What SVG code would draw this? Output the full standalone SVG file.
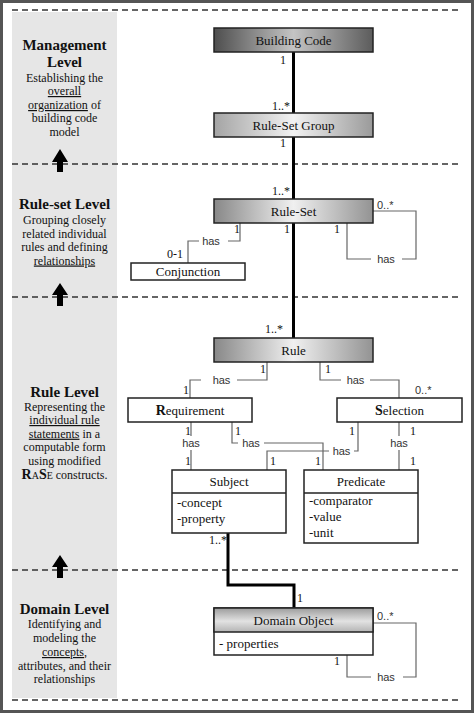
<svg xmlns="http://www.w3.org/2000/svg" width="474" height="713" viewBox="0 0 474 713">
<defs>
<linearGradient id="gDark" x1="0" y1="0" x2="1" y2="0">
<stop offset="0" stop-color="#4e4e4e"/><stop offset="0.5" stop-color="#c4c4c4"/><stop offset="1" stop-color="#5c5c5c"/>
</linearGradient>
<linearGradient id="gLight" x1="0" y1="0" x2="1" y2="0">
<stop offset="0" stop-color="#a4a4a4"/><stop offset="0.5" stop-color="#f2f2f2"/><stop offset="1" stop-color="#9a9a9a"/>
</linearGradient>
<linearGradient id="gMid" x1="0" y1="0" x2="1" y2="0">
<stop offset="0" stop-color="#888"/><stop offset="0.5" stop-color="#f0f0f0"/><stop offset="1" stop-color="#939393"/>
</linearGradient>
<linearGradient id="gVert" x1="0" y1="0" x2="0" y2="1">
<stop offset="0" stop-color="#9c9c9c"/><stop offset="0.55" stop-color="#e2e2e2"/><stop offset="1" stop-color="#b4b4b4"/>
</linearGradient>
<style>
.box{stroke:#222;stroke-width:1.5}
.t{font-family:"Liberation Serif","Times New Roman",serif;fill:#111}
.bl{font-size:13px;text-anchor:middle}
.at{font-size:13px}
.m{font-size:12px}
.s{font-family:"Liberation Sans",Arial,sans-serif;font-size:11px;fill:#333}
.c{fill:none;stroke:#666;stroke-width:1.2}
.thick{fill:none;stroke:#000;stroke-width:3}
.dash{stroke:#333;stroke-width:1.5;stroke-dasharray:6 4}
.h{font-size:15px;font-weight:bold;text-anchor:middle}
.d{font-size:12px;text-anchor:middle}
.u{text-decoration:underline}
.arr{fill:#000}
</style>
</defs>
<rect x="1.5" y="1.5" width="471" height="710" fill="#fff" stroke="#555" stroke-width="3"/>
<rect x="12" y="12" width="105" height="686" fill="#e6e6e6"/>
<g id="separators">
<line class="dash" x1="12" y1="10" x2="462" y2="10"/>
<line class="dash" x1="12" y1="164" x2="462" y2="164"/>
<line class="dash" x1="12" y1="297" x2="462" y2="297"/>
<line class="dash" x1="12" y1="570" x2="462" y2="570"/>
<line class="dash" x1="12" y1="700" x2="462" y2="700"/>
</g>
<g id="arrows">
<polygon class="arr" points="60,149 68,162 63,162 63,172 57,172 57,162 52,162"/>
<polygon class="arr" points="60,283 68,295 63,295 63,306 57,306 57,295 52,295"/>
<polygon class="arr" points="60,555 68,567 63,567 63,578 57,578 57,567 52,567"/>
</g>
<g id="level-texts" class="t">
<text class="h" x="64.5" y="49.5">Management</text>
<text class="h" x="64.5" y="66.5">Level</text>
<text class="d" x="64.5" y="82">Establishing the</text>
<text class="d" x="64.5" y="95"><tspan class="u">overall</tspan></text>
<text class="d" x="64.5" y="109"><tspan class="u">organization</tspan> of</text>
<text class="d" x="64.5" y="122">building code</text>
<text class="d" x="64.5" y="135.5">model</text>
<text class="h" x="64.5" y="209">Rule-set Level</text>
<text class="d" x="64.5" y="224">Grouping closely</text>
<text class="d" x="64.5" y="237.5">related individual</text>
<text class="d" x="64.5" y="251">rules and defining</text>
<text class="d" x="64.5" y="264.5"><tspan class="u">relationships</tspan></text>
<text class="h" x="64.5" y="396.5">Rule Level</text>
<text class="d" x="64.5" y="410.5">Representing the</text>
<text class="d" x="64.5" y="424"><tspan class="u">individual rule</tspan></text>
<text class="d" x="64.5" y="437.7"><tspan class="u">statements</tspan> in a</text>
<text class="d" x="64.5" y="451.3">computable form</text>
<text class="d" x="64.5" y="465">using modified</text>
<text class="d" x="64.5" y="479"><tspan font-weight="bold" font-size="14">R</tspan><tspan font-size="10">A</tspan><tspan font-weight="bold" font-size="14">S</tspan><tspan font-size="10">E</tspan> constructs.</text>
<text class="h" x="64.5" y="614">Domain Level</text>
<text class="d" x="64.5" y="628">Identifying and</text>
<text class="d" x="64.5" y="642">modeling the</text>
<text class="d" x="64.5" y="656"><tspan class="u">concepts</tspan>,</text>
<text class="d" x="64.5" y="669.5">attributes, and their</text>
<text class="d" x="64.5" y="683">relationships</text>
</g>
<g id="connectors">
<line class="thick" x1="293.5" y1="52" x2="293.5" y2="338"/>
<path class="thick" d="M228,533 V585 H294 V608"/>
<path class="c" d="M240,223 V241 H228 M199,241 H188 V263"/>
<path class="c" d="M347,223 V259 H371 M402,259 H416 V211 H373"/>
<path class="c" d="M267,362 V380 H237 M201,380 H190 V398"/>
<path class="c" d="M320,362 V380 H341 M370,380 H399 V398"/>
<path class="c" d="M191,422 V436 M191,450 V470"/>
<path class="c" d="M232,422 V443 H238 M264,443 H323 V470"/>
<path class="c" d="M358,422 V451 H354 M329,451 H267 V470"/>
<path class="c" d="M399,422 V436 M399,450 V470"/>
<path class="c" d="M373,623 H416 V677 H403 M371,677 H347 V655"/>
<g class="t m">
<text x="283" y="64" text-anchor="middle">1</text>
<text x="290" y="110" text-anchor="end">1..*</text>
<text x="283" y="147" text-anchor="middle">1</text>
<text x="290" y="195" text-anchor="end">1..*</text>
<text x="237" y="233" text-anchor="middle">1</text>
<text x="287" y="233" text-anchor="middle">1</text>
<text x="337" y="233" text-anchor="middle">1</text>
<text x="175" y="258" text-anchor="middle">0-1</text>
<text x="283" y="333" text-anchor="end">1..*</text>
<text x="263" y="373" text-anchor="middle">1</text>
<text x="328" y="373" text-anchor="middle">1</text>
<text x="186" y="394" text-anchor="middle">1</text>
<text x="188" y="435" text-anchor="middle">1</text>
<text x="238" y="435" text-anchor="middle">1</text>
<text x="352" y="435" text-anchor="middle">1</text>
<text x="413" y="435" text-anchor="middle">1</text>
<text x="188" y="465" text-anchor="middle">1</text>
<text x="273" y="465" text-anchor="middle">1</text>
<text x="318" y="465" text-anchor="middle">1</text>
<text x="413" y="465" text-anchor="middle">1</text>
<text x="227" y="544" text-anchor="end">1..*</text>
<text x="300" y="602" text-anchor="middle">1</text>
<text x="337" y="665" text-anchor="middle">1</text>
</g>
<g class="s">
<text x="377" y="209">0..*</text>
<text x="211" y="245" text-anchor="middle">has</text>
<text x="386" y="263" text-anchor="middle">has</text>
<text x="221.5" y="384" text-anchor="middle">has</text>
<text x="355.5" y="384" text-anchor="middle">has</text>
<text x="415" y="394">0..*</text>
<text x="191" y="447" text-anchor="middle">has</text>
<text x="251" y="447" text-anchor="middle">has</text>
<text x="341.5" y="455" text-anchor="middle">has</text>
<text x="399" y="447" text-anchor="middle">has</text>
<text x="377" y="620">0..*</text>
<text x="386" y="681" text-anchor="middle">has</text>
</g>
</g>
<g id="building-code">
<rect class="box" x="214" y="28" width="159" height="24" fill="url(#gDark)"/>
<text class="t bl" x="293.5" y="44.5">Building Code</text>
</g>
<g id="rule-set-group">
<rect class="box" x="214" y="113" width="159" height="24" fill="url(#gLight)"/>
<text class="t bl" x="293.5" y="129.5">Rule-Set Group</text>
</g>
<g id="rule-set">
<rect class="box" x="214" y="199" width="159" height="24" fill="url(#gMid)"/>
<text class="t bl" x="293.5" y="215.5">Rule-Set</text>
</g>
<g id="conjunction">
<rect class="box" x="131" y="263" width="114" height="17" fill="#fff"/>
<text class="t bl" x="188" y="276">Conjunction</text>
</g>
<g id="rule">
<rect class="box" x="214" y="338" width="159" height="24" fill="url(#gMid)"/>
<text class="t bl" x="293.5" y="354.5">Rule</text>
</g>
<g id="requirement">
<rect class="box" x="128" y="398" width="124" height="24" fill="#fff"/>
<text class="t bl" x="190" y="414.5"><tspan font-weight="bold" font-size="14">R</tspan>equirement</text>
</g>
<g id="selection">
<rect class="box" x="337" y="398" width="125" height="24" fill="#fff"/>
<text class="t bl" x="399.5" y="414.5"><tspan font-weight="bold" font-size="14">S</tspan>election</text>
</g>
<g id="subject">
<rect class="box" x="172" y="470" width="114" height="63" fill="#fff"/>
<line class="box" x1="172" y1="493" x2="286" y2="493"/>
<text class="t bl" x="229" y="486">Subject</text>
<text class="t at" x="177" y="507">-concept</text>
<text class="t at" x="177" y="523">-property</text>
</g>
<g id="predicate">
<rect class="box" x="304" y="470" width="114" height="73" fill="#fff"/>
<line class="box" x1="304" y1="493" x2="418" y2="493"/>
<text class="t bl" x="361" y="486">Predicate</text>
<text class="t at" x="309" y="505">-comparator</text>
<text class="t at" x="309" y="521">-value</text>
<text class="t at" x="309" y="537">-unit</text>
</g>
<g id="domain-object">
<rect class="box" x="214" y="608" width="159" height="47" fill="#fff"/>
<rect class="box" x="214" y="608" width="159" height="24" fill="url(#gVert)"/>
<text class="t bl" x="293.5" y="624.5">Domain Object</text>
<text class="t at" x="219" y="648">- properties</text>
</g>
</svg>
